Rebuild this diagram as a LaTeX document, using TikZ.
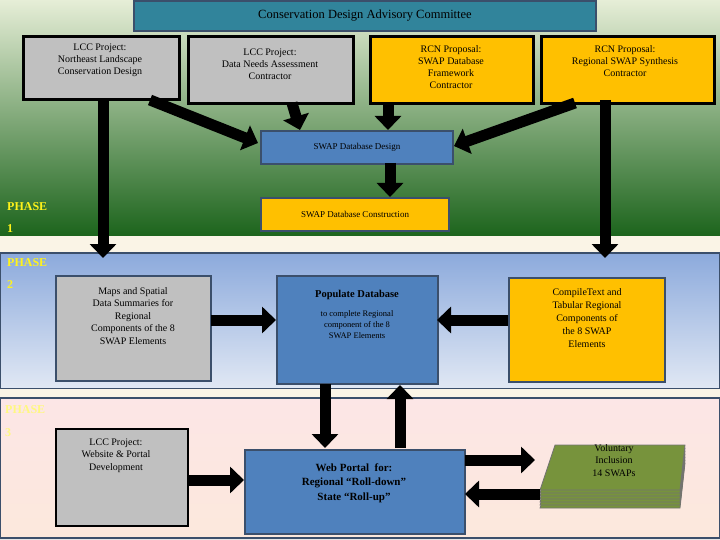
\documentclass[tikz,border=0pt]{standalone}
\usepackage{fontspec}
\setmainfont{Liberation Serif}
\usetikzlibrary{arrows.meta}
\definecolor{teal1}{HTML}{31849B}
\definecolor{blu}{HTML}{4F81BD}
\definecolor{org}{HTML}{FFC000}
\definecolor{gry}{HTML}{C0C0C0}
\definecolor{grn}{HTML}{77933C}
\definecolor{frame}{HTML}{3B4F6B}
\definecolor{g1t}{RGB}{230,238,215}
\definecolor{g1b}{RGB}{28,100,28}
\definecolor{beige}{RGB}{250,244,230}
\definecolor{b2t}{RGB}{140,170,220}
\definecolor{b2b}{RGB}{225,232,244}
\definecolor{o3t}{RGB}{252,230,230}
\definecolor{o3m}{RGB}{250,178,125}
\definecolor{o3b}{RGB}{252,232,220}
\begin{document}
\begin{tikzpicture}[x=1pt,y=-1pt,
  box/.style={draw=frame,line width=2pt,align=center,inner sep=1pt,font=\fontsize{10}{12}\selectfont},
  gbox/.style={box,fill=gry,draw=black,line width=3pt},
  obox/.style={box,fill=org,draw=black,line width=3pt},
  fat/.style={line width=11pt,-{Triangle[width=26pt,length=14pt]}},
  ph/.style={text=yellow!90!white,font=\fontsize{12}{14}\selectfont\bfseries,anchor=west,inner sep=0pt}]
\useasboundingbox (0,0) rectangle (720,540);
% backgrounds
\fill[black!10] (0,0) rectangle (720,540);
\shade[top color=g1t,bottom color=g1b] (0,0) rectangle (720,236);
\fill[beige] (0,236) rectangle (720,253);
\shade[top color=b2t,bottom color=b2b] (0,253) rectangle (720,389);
\draw[frame,line width=1.5pt] (0,253) rectangle (720,389);
\fill[beige] (0,389) rectangle (720,398);
\shade[top color=o3t,middle color=o3m,bottom color=o3b] (0,398) rectangle (720,538);
\draw[frame,line width=1.5pt] (0,398) rectangle (720,538);
% nodes
\node[box,fill=teal1,draw=frame,minimum width=462pt,minimum height=30pt,font=\fontsize{12.5}{14}\selectfont,anchor=north west] (cda) at (133,0) {Conservation Design Advisory Committee};
\node[gbox,minimum width=156pt,minimum height=63pt,anchor=north west] (b1) at (22,35) {};
\node[align=center,font=\fontsize{10}{12}\selectfont,anchor=north] (b1t) at (100,40) {LCC Project:\\Northeast Landscape\\Conservation Design};
\node[gbox,minimum width=165pt,minimum height=67pt,anchor=north west] (b2) at (187,35) {};
\node[align=center,font=\fontsize{10}{12}\selectfont,anchor=north] (b2t) at (270,45) {LCC Project:\\Data Needs Assessment\\Contractor};
\node[obox,minimum width=163pt,minimum height=67pt,anchor=north west] (b3) at (369,35) {};
\node[align=center,font=\fontsize{10}{12}\selectfont,anchor=north] (b3t) at (451,42) {RCN Proposal:\\SWAP Database\\Framework\\Contractor};
\node[obox,minimum width=173pt,minimum height=67pt,anchor=north west] (b4) at (540,35) {};
\node[align=center,font=\fontsize{10}{12}\selectfont,anchor=north] (b4t) at (625,42) {RCN Proposal:\\Regional SWAP Synthesis\\Contractor};
\node[box,fill=blu,minimum width=192pt,minimum height=33pt,anchor=north west,font=\fontsize{9}{11}\selectfont] (des) at (260,130) {SWAP Database Design};
\node[box,fill=org,minimum width=188pt,minimum height=33pt,anchor=north west,font=\fontsize{9}{11}\selectfont] (con) at (260,197) {SWAP Database Construction};
\node[box,fill=gry,minimum width=155pt,minimum height=105pt,anchor=north west] (maps) at (55,275) {};
\node[align=center,font=\fontsize{10}{12.5}\selectfont,anchor=north] (mapst) at (133,284) {Maps and Spatial\\Data Summaries for\\Regional\\Components of the 8\\SWAP Elements};
\node[box,fill=blu,minimum width=161pt,minimum height=108pt,anchor=north west] (pop) at (276,275) {};
\node[font=\fontsize{10.5}{13}\selectfont\bfseries,anchor=north,inner sep=0pt] (popt) at (357,290) {Populate Database};
\node[align=center,font=\fontsize{8.5}{11}\selectfont,anchor=north,inner sep=0pt] (popu) at (357,310) {to complete Regional\\component of the 8\\SWAP Elements};
\node[box,fill=org,minimum width=156pt,minimum height=104pt,anchor=north west] (cmp) at (508,277) {};
\node[align=center,font=\fontsize{10}{13}\selectfont,anchor=north] (cmpt) at (587,285) {CompileText and\\Tabular Regional\\Components of\\the 8 SWAP\\Elements};
\node[box,fill=gry,draw=black,minimum width=132pt,minimum height=97pt,anchor=north west] (web) at (55,428) {};
\node[align=center,font=\fontsize{10}{12.5}\selectfont,anchor=north] (webt) at (116,435) {LCC Project:\\Website \& Portal\\Development};
\node[box,fill=blu,minimum width=220pt,minimum height=84pt,anchor=north west] (por) at (244,449) {};
\node[align=center,font=\fontsize{11}{14.5}\selectfont\bfseries,anchor=north] (port) at (354,460) {Web Portal\ \ for:\\Regional “Roll-down”\\State “Roll-up”};
% stack
\foreach \d in {18,15,12,9,6,3,0}
  \draw[draw=black!55,fill=grn,line width=0.8pt] (555,445+\d) -- (685,445+\d) -- (680,490+\d) -- (540,490+\d) -- cycle;
\node[align=center,font=\fontsize{10}{12.5}\selectfont,anchor=north] (volt) at (614,441) {Voluntary\\Inclusion\\14 SWAPs};
% phase labels
\node[ph] (p1a) at (7,207) {PHASE};
\node[ph] (p1b) at (7,229) {1};
\node[ph] (p2a) at (7,263) {PHASE};
\node[ph] (p2b) at (7,285) {2};
\node[ph,text=yellow!50!white] (p3a) at (5,410) {PHASE};
\node[ph,text=yellow!50!white] (p3b) at (5,433) {3};
% arrows
\draw[fat] (103,99) -- (103,258);
\draw[fat] (150,100) -- (258,143);
\draw[fat] (292,103) -- (300,130);
\draw[fat] (388,103) -- (388,130);
\draw[fat] (575,103) -- (454,146);
\draw[fat] (605,100) -- (605,258);
\draw[fat] (390,163) -- (390,197);
\draw[fat] (211,320) -- (276,320);
\draw[fat] (508,320) -- (437,320);
\draw[fat] (325,384) -- (325,448);
\draw[fat] (400,448) -- (400,385);
\draw[fat] (188,480) -- (244,480);
\draw[fat] (465,460) -- (535,460);
\draw[fat] (540,494) -- (465,494);
\end{tikzpicture}
\end{document}
